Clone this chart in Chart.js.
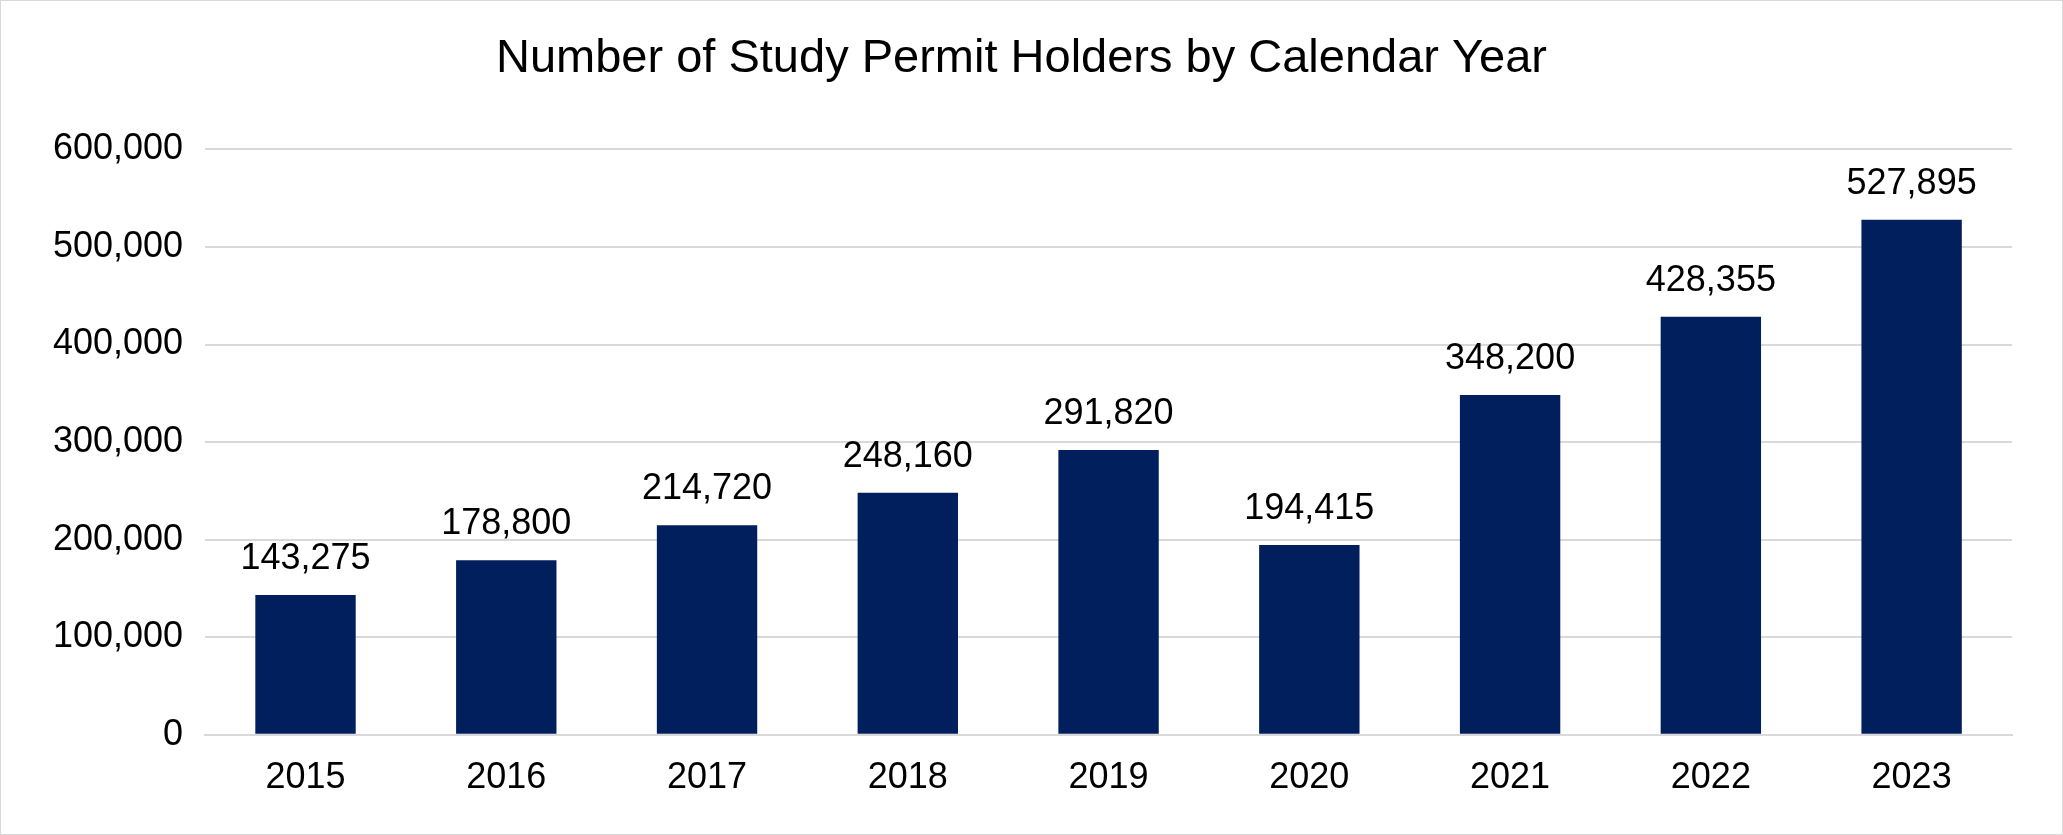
<!DOCTYPE html>
<html>
  <head>
    <meta charset="utf-8">
    <title>Study Permit Holders</title>
    <script src="https://cdn.jsdelivr.net/npm/chart.js@4.4.0/dist/chart.umd.min.js"></script>
    <style>
      body { margin: 0; background: #fff; }
      #wrap { width: 2061px; height: 833px; border: 1px solid #d9d9d9; }
    </style>
  </head>
  <body>
  <div id="wrap"><canvas id="myChart" width="2061" height="833"></canvas></div>
  <script>
    const years = ['2015', '2016', '2017', '2018', '2019', '2020', '2021', '2022', '2023'];
    const holders = [143275, 178800, 214720, 248160, 291820, 194415, 348200, 428355, 527895];
    const yTicks = [0, 100000, 200000, 300000, 400000, 500000, 600000];

    const fmt = v => v.toLocaleString('en-US');

    // labels above the bars
    const barLabels = {
      id: 'barLabels',
      afterDatasetsDraw(chart) {
        const ctx = chart.ctx;
        ctx.save();
        ctx.font = '36px "Liberation Sans", Arial, sans-serif';
        ctx.fillStyle = '#000';
        ctx.textAlign = 'center';
        ctx.textBaseline = 'bottom';
        chart.getDatasetMeta(0).data.forEach((bar, i) => {
          ctx.fillText(fmt(holders[i]), bar.x, bar.y - 18);
        });
        ctx.restore();
      }
    };

    Chart.defaults.font.family = '"Liberation Sans", Arial, sans-serif';
    Chart.defaults.color = '#000';

    new Chart(document.getElementById('myChart'), {
      type: 'bar',
      data: {
        labels: years,
        datasets: [{
          data: holders,
          backgroundColor: '#001f5c',
          categoryPercentage: 1,
          barPercentage: 0.5
        }]
      },
      options: {
        responsive: false,
        animation: false,
        layout: { padding: { left: 30, right: 50, top: 0, bottom: 20 } },
        plugins: {
          legend: { display: false },
          tooltip: { enabled: false },
          title: {
            display: true,
            text: 'Number of Study Permit Holders by Calendar Year',
            font: { size: 47, weight: 'normal' },
            color: '#000',
            padding: { top: 30, bottom: 62 }
          }
        },
        scales: {
          x: {
            grid: { display: false },
            border: { color: '#d9d9d9', width: 2 },
            ticks: { font: { size: 36 }, padding: 14 }
          },
          y: {
            min: 0,
            max: 600000,
            afterBuildTicks: axis => { axis.ticks = yTicks.map(v => ({ value: v })); },
            grid: { color: '#d9d9d9', lineWidth: 2, drawTicks: false },
            border: { display: false },
            ticks: { font: { size: 36 }, padding: 22, callback: v => fmt(v) }
          }
        }
      },
      plugins: [barLabels]
    });
  </script>
  </body>
</html>
